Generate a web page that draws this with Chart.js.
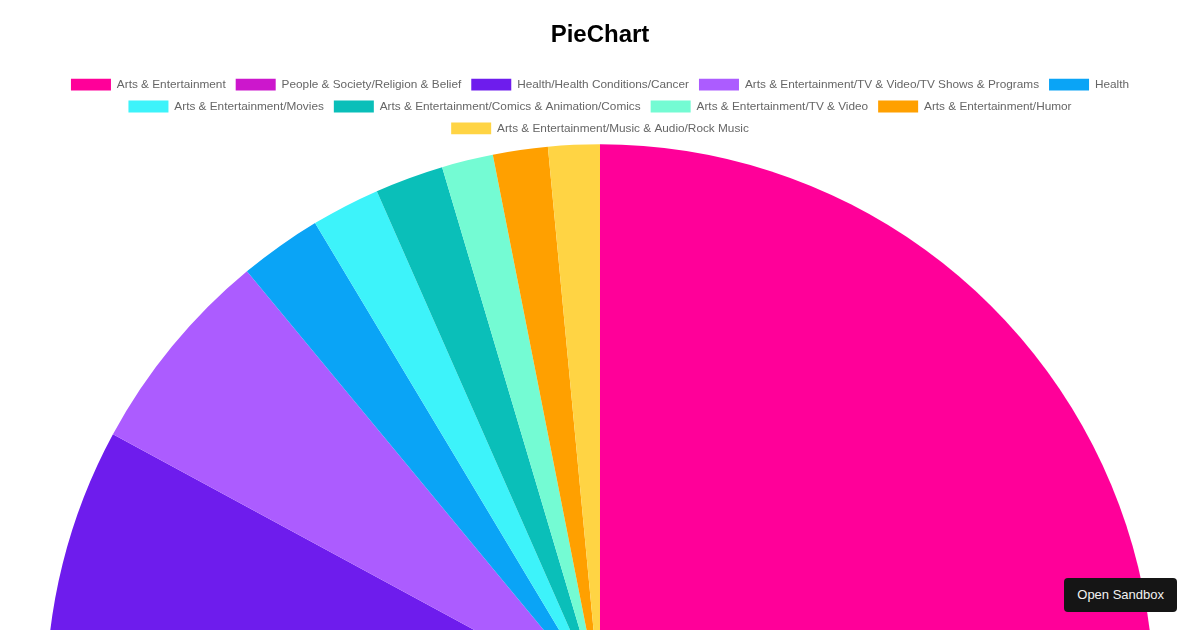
<!DOCTYPE html>
<html>
<head>
<meta charset="utf-8">
<script src="https://cdn.jsdelivr.net/npm/chart.js@4"></script>
<style>
  body { margin: 8px; background: #fff; }
  #wrap { width: 1184px; height: 1244px; position: relative; }
  #sandbox {
    position: fixed; right: 23px; bottom: 18px;
    background: #151515; color: #f2f2f2; border-radius: 4px;
    font: 13px "Liberation Sans", Arial, sans-serif;
    padding: 9px 13px; line-height: 16px;
  }
</style>
</head>
<body>
<div id="wrap"><canvas id="myChart"></canvas></div>
<div id="sandbox">Open Sandbox</div>
<script>
  // data
  const labels = [
    "Arts & Entertainment",
    "People & Society/Religion & Belief",
    "Health/Health Conditions/Cancer",
    "Arts & Entertainment/TV & Video/TV Shows & Programs",
    "Health",
    "Arts & Entertainment/Movies",
    "Arts & Entertainment/Comics & Animation/Comics",
    "Arts & Entertainment/TV & Video",
    "Arts & Entertainment/Humor",
    "Arts & Entertainment/Music & Audio/Rock Music",
  ];
  const values = [399, 270, 160, 61, 24, 20, 20, 15, 16, 15];
  const colours = [
    "#ff0099",
    "#cc17cc",
    "#6e1ced",
    "#ac5cff",
    "#0aa4f6",
    "#3df3fa",
    "#0abfb9",
    "#74fbd3",
    "#ffa000",
    "#ffd444",
  ];

  // config
  const config = {
    type: "pie",
    data: {
      labels: labels,
      datasets: [
        {
          data: values,
          backgroundColor: colours,
          borderWidth: 0,
        },
      ],
    },
    options: {
      responsive: true,
      maintainAspectRatio: false,
      animation: false,
      plugins: {
        title: {
          display: true,
          text: "PieChart",
          color: "#000",
          font: { size: 24, weight: "bold" },
          padding: { top: 13, bottom: 19 },
        },
        legend: {
          position: "top",
          labels: { color: "#666", font: { size: 11.8 } },
        },
      },
    },
  };

  const myChart = new Chart(document.getElementById("myChart"), config);
</script>
</body>
</html>
